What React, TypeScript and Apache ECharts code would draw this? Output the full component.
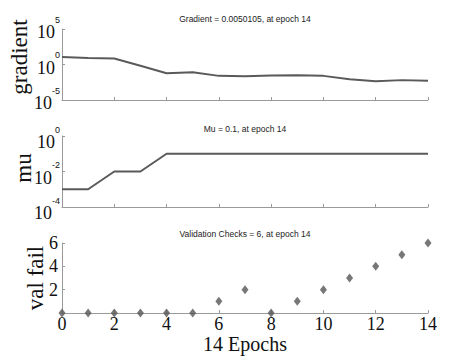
import React, { useEffect, useRef } from "react";
import * as echarts from "echarts";

const epochs = [0, 1, 2, 3, 4, 5, 6, 7, 8, 9, 10, 11, 12, 13, 14];
const gradientValues = [11.7, 8.5, 7.0, 0.68, 0.059, 0.083, 0.025, 0.022, 0.028, 0.031, 0.025, 0.0085, 0.0045, 0.0063, 0.0050105];
const muValues = [0.001, 0.001, 0.01, 0.01, 0.1, 0.1, 0.1, 0.1, 0.1, 0.1, 0.1, 0.1, 0.1, 0.1, 0.1];
const valFailValues = [0, 0, 0, 0, 0, 0, 1, 2, 0, 1, 2, 3, 4, 5, 6];
const gradientTicks = [1e-5, 1, 1e5];
const muTicks = [1e-4, 1e-2, 1];
const titles = [
  "Gradient = 0.0050105, at epoch 14",
  "Mu = 0.1, at epoch 14",
  "Validation Checks = 6, at epoch 14",
];
const yNames = ["gradient", "mu", "val fail"];
const xName = "14 Epochs";

const SERIF = "Liberation Serif";
const SANS = "Liberation Sans";
const AXIS = "#9a9a9a";
const LINE = "#5a5a5a";
const TEXT = "#111";

const gridLeft = 62;
const gridWidth = 366;
const grids = [
  { top: 29, height: 71 },
  { top: 136, height: 71 },
  { top: 243, height: 70 },
];
const titleY = [19, 129, 234];
const yNamePos = [
  [19, 57],
  [23, 168],
  [35, 278],
];

const powLabel = (v: number) => {
  const e = Math.round(Math.log10(v));
  return `{b|10}{s|${e}}`;
};

const powRich = {
  b: { fontFamily: SERIF, fontSize: 18, lineHeight: 34, color: TEXT },
  s: { fontFamily: SANS, fontSize: 9, lineHeight: 9, color: TEXT, verticalAlign: "top" },
};

export default function App() {
  const ref = useRef<HTMLDivElement>(null);
  useEffect(() => {
    if (!ref.current) return;
    const chart = echarts.init(ref.current, null, { renderer: "svg" });
    const axisLine = { show: true, lineStyle: { color: AXIS, width: 1 } };
    const axisTick = { show: true, inside: true, length: 3, lineStyle: { color: AXIS, width: 1 } };

    const option: any = {
      animation: false,
      grid: grids.map((g) => ({
        left: gridLeft,
        width: gridWidth,
        top: g.top,
        height: g.height,
        containLabel: false,
        outerBoundsMode: "none",
      })),
      xAxis: [0, 1, 2].map((i) => ({
        type: "value",
        gridIndex: i,
        min: 0,
        max: 14,
        interval: 2,
        axisLine,
        axisTick,
        splitLine: { show: false },
        axisLabel:
          i === 2
            ? { show: true, fontFamily: SERIF, fontSize: 18, color: TEXT, margin: 2 }
            : { show: false },
        name: i === 2 ? xName : "",
        nameLocation: "middle",
        nameGap: 14,
        nameTextStyle: { fontFamily: SERIF, fontSize: 20, color: TEXT },
      })),
      yAxis: [
        {
          type: "log",
          logBase: 10,
          gridIndex: 0,
          min: 1e-5,
          max: 1e5,
          axisLine,
          axisTick: { ...axisTick, customValues: gradientTicks },
          splitLine: { show: false },
          axisLabel: {
            customValues: gradientTicks,
            formatter: powLabel,
            rich: powRich,
            margin: 2,
            padding: [6, 0, 0, 0],
          },
        },
        {
          type: "log",
          logBase: 10,
          gridIndex: 1,
          min: 1e-4,
          max: 1,
          axisLine,
          axisTick: { ...axisTick, customValues: muTicks },
          splitLine: { show: false },
          axisLabel: {
            customValues: muTicks,
            formatter: powLabel,
            rich: powRich,
            margin: 2,
            padding: [12, 0, 0, 0],
          },
        },
        {
          type: "value",
          gridIndex: 2,
          min: 0,
          max: 6,
          interval: 2,
          axisLine,
          axisTick,
          splitLine: { show: false },
          axisLabel: {
            formatter: (v: number) => (v === 0 ? "" : String(v)),
            fontFamily: SERIF,
            fontSize: 18,
            color: TEXT,
            margin: 4,
          },
        },
      ],
      series: [
        {
          type: "line",
          xAxisIndex: 0,
          yAxisIndex: 0,
          data: epochs.map((e, i) => [e, gradientValues[i]]),
          showSymbol: false,
          lineStyle: { color: LINE, width: 2 },
        },
        {
          type: "line",
          xAxisIndex: 1,
          yAxisIndex: 1,
          data: epochs.map((e, i) => [e, muValues[i]]),
          showSymbol: false,
          lineStyle: { color: LINE, width: 2 },
        },
        {
          type: "scatter",
          xAxisIndex: 2,
          yAxisIndex: 2,
          data: epochs.map((e, i) => [e, valFailValues[i]]),
          symbol: "diamond",
          symbolSize: [7, 9],
          itemStyle: { color: "#555" },
          clip: false,
        },
      ],
      graphic: [
        ...titles.map((t, i) => ({
          type: "text",
          x: gridLeft + gridWidth / 2,
          y: titleY[i],
          style: {
            text: t,
            fill: "#222",
            fontFamily: SANS,
            fontSize: 8.5,
            align: "center",
            verticalAlign: "middle",
          },
        })),
        ...yNames.map((n, i) => ({
          type: "text",
          x: yNamePos[i][0],
          y: yNamePos[i][1],
          rotation: Math.PI / 2,
          style: {
            text: n,
            fill: TEXT,
            fontFamily: SERIF,
            fontSize: 23,
            align: "center",
            verticalAlign: "middle",
          },
        })),
      ],
    };
    chart.setOption(option);
    return () => chart.dispose();
  }, []);
  return (
    <div
      ref={ref}
      style={{ position: "fixed", left: 0, top: 0, width: 474, height: 356, background: "#fff" }}
    />
  );
}
